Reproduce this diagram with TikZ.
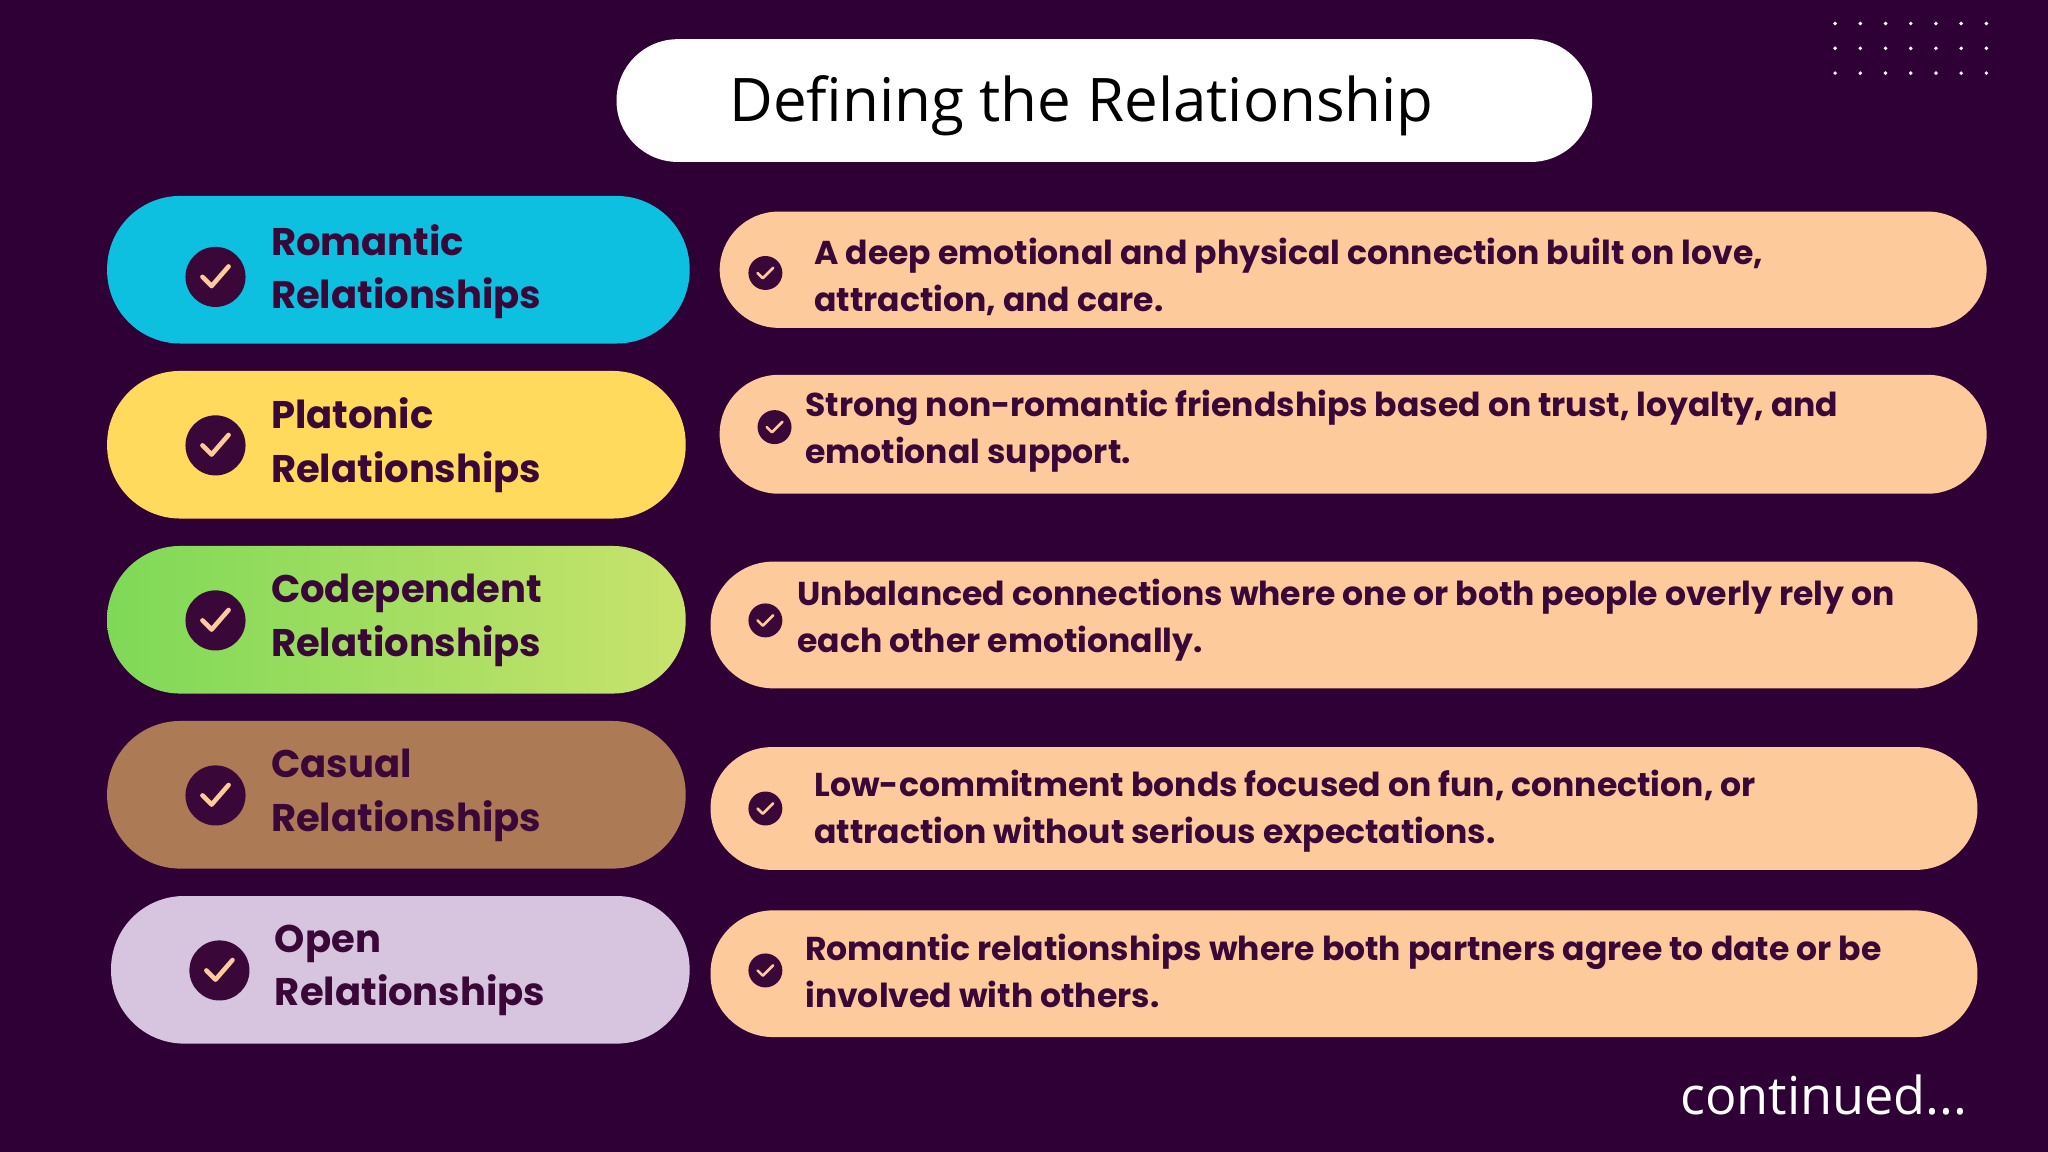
\documentclass[tikz,border=0pt]{standalone}
\usepackage{fontspec}
\setmainfont{Poppins}
\newfontfamily\titlefont{Open Sans}
\usetikzlibrary{calc}
\definecolor{bg}{HTML}{2E0035}
\definecolor{ink}{HTML}{3A0838}
\definecolor{peach}{HTML}{FDCB9B}
\definecolor{cyanp}{HTML}{0EC0E0}
\definecolor{yelp}{HTML}{FFDA5C}
\definecolor{greenA}{HTML}{7ED957}
\definecolor{greenB}{HTML}{C9E36C}
\definecolor{brownp}{HTML}{AD7A56}
\definecolor{lavp}{HTML}{D7C4DF}
\tikzset{
  lab/.style={anchor=west,align=left,text=ink,font=\fontsize{29.5}{41}\selectfont\bfseries},
  desc/.style={anchor=west,align=left,text=ink,font=\fontsize{25.3}{36}\selectfont\bfseries},
}
\newcommand{\bigcheck}[2]{%
  \fill[ink] (#1,#2) circle (23);
  \draw[peach,line width=3.5,line cap=round,line join=round] (#1-10,#2) -- (#1-3,#2+7) -- (#1+10,#2-8);}
\newcommand{\smallcheck}[2]{%
  \fill[ink] (#1,#2) circle (13);
  \draw[peach,line width=2,line cap=round,line join=round] (#1-6,#2) -- (#1-2,#2+4) -- (#1+6,#2-4);}
\begin{document}
\begin{tikzpicture}[x=1pt,y=-1pt]
\fill[bg] (0,0) rectangle (1568,882);
\foreach \i in {0,...,6} \foreach \j in {0,...,2}
  \fill[white] (1405+\i*19.3,18+\j*19) circle (1.5);
% title
\node[fill=white,rounded corners=47,minimum width=747,minimum height=94,inner sep=0] (title) at (845.5,77) {};
\node[text=black,font=\titlefont\fontsize{46}{52}\selectfont] (tt) at (828,81) {Defining the Relationship};
% left pills
\fill[cyanp,rounded corners=56] (82,150) rectangle (528,263);
\fill[yelp,rounded corners=56] (82,284) rectangle (525,397);
\shade[left color=greenA,right color=greenB,rounded corners=56] (82,418) rectangle (525,531);
\fill[brownp,rounded corners=56] (82,552) rectangle (525,665);
\fill[lavp,rounded corners=56] (85,686) rectangle (528,799);
\bigcheck{165}{212}\bigcheck{165}{341}\bigcheck{165}{475}\bigcheck{165}{609}\bigcheck{168}{743}
\node[lab] (l1) at (204,208) {Romantic\\Relationships};
\node[lab] (l2) at (204,341) {Platonic\\Relationships};
\node[lab] (l3) at (204,475) {Codependent\\Relationships};
\node[lab] (l4) at (204,609) {Casual\\Relationships};
\node[lab] (l5) at (207,743) {Open\\Relationships};
% right pills
\fill[peach,rounded corners=45] (551,162) rectangle (1521,251);
\fill[peach,rounded corners=45] (551,287) rectangle (1521,378);
\fill[peach,rounded corners=48] (544,430) rectangle (1514,527);
\fill[peach,rounded corners=47] (544,572) rectangle (1514,666);
\fill[peach,rounded corners=48] (544,697) rectangle (1514,794);
\smallcheck{586}{209}\smallcheck{593}{327}\smallcheck{586}{475}\smallcheck{586}{619}\smallcheck{586}{743}
\node[desc] (d1) at (620,212) {A deep emotional and physical connection built on love,\\attraction, and care.};
\node[desc] (d2) at (613,330) {Strong non-romantic friendships based on trust, loyalty, and\\emotional support.};
\node[desc] (d3) at (607,475) {Unbalanced connections where one or both people overly rely on\\each other emotionally.};
\node[desc] (d4) at (620,621) {Low-commitment bonds focused on fun, connection, or\\attraction without serious expectations.};
\node[desc] (d5) at (613,743) {Romantic relationships where both partners agree to date or be\\involved with others.};
\node[anchor=east,text=white,font=\titlefont\fontsize{40}{46}\selectfont] (cont) at (1510,838) {continued...};
\end{tikzpicture}
\end{document}
